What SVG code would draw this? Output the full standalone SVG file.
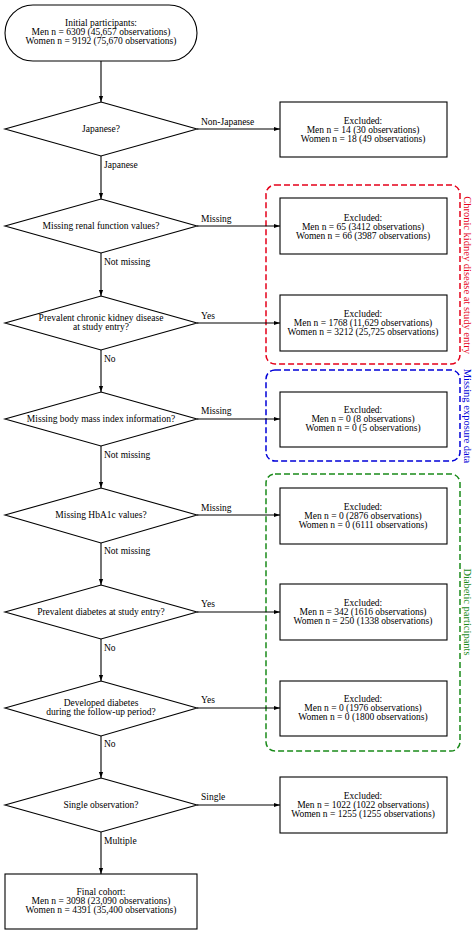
<svg xmlns="http://www.w3.org/2000/svg" width="474" height="932" viewBox="0 0 474 932">
<style>
text{font-family:"Liberation Serif","DejaVu Serif",serif;font-size:9.5px;fill:#000}
.c{text-anchor:middle}
.v{font-size:10.5px;text-anchor:middle}
.n{fill:#fff;stroke:#000;stroke-width:1.1}
.e{stroke:#000;stroke-width:1.1;fill:none}
.g{fill:none;stroke-width:1.5;stroke-dasharray:6,3}
</style>
<defs>
<marker id="a" viewBox="0 0 10 10" refX="10" refY="5" markerWidth="6" markerHeight="6" markerUnits="userSpaceOnUse" orient="auto"><path d="M0,1.5L10,5L0,8.5z" fill="#000"/></marker>
</defs>
<g id="groups">
<rect x="266" y="185" width="194" height="179" rx="9" class="g" stroke="#e5001a"/>
<text transform="translate(464,275) rotate(90)" class="v" style="fill:#e5001a">Chronic kidney disease at study entry</text>
<rect x="266" y="370" width="194" height="91" rx="9" class="g" stroke="#0000d8"/>
<text transform="translate(464,416) rotate(90)" class="v" style="fill:#0000d8">Missing exposure data</text>
<rect x="266" y="474" width="194" height="277" rx="9" class="g" stroke="#1a8a1a"/>
<text transform="translate(464,612) rotate(90)" class="v" style="fill:#1a8a1a">Diabetic participants</text>
</g>
<g id="connectors">
<path class="e" d="M101,61V102" marker-end="url(#a)"/>
<path class="e" d="M101,156V199" marker-end="url(#a)"/>
<path class="e" d="M101,253V296" marker-end="url(#a)"/>
<path class="e" d="M101,350V392" marker-end="url(#a)"/>
<path class="e" d="M101,446V488" marker-end="url(#a)"/>
<path class="e" d="M101,543V585" marker-end="url(#a)"/>
<path class="e" d="M101,639V681" marker-end="url(#a)"/>
<path class="e" d="M101,736V778" marker-end="url(#a)"/>
<path class="e" d="M101,832V874" marker-end="url(#a)"/>
<path class="e" d="M197,129H280" marker-end="url(#a)"/>
<path class="e" d="M197,226H280" marker-end="url(#a)"/>
<path class="e" d="M197,323H280" marker-end="url(#a)"/>
<path class="e" d="M197,419H280" marker-end="url(#a)"/>
<path class="e" d="M197,515H280" marker-end="url(#a)"/>
<path class="e" d="M197,612H280" marker-end="url(#a)"/>
<path class="e" d="M197,708H280" marker-end="url(#a)"/>
<path class="e" d="M197,805H280" marker-end="url(#a)"/>
<text x="201" y="125">Non-Japanese</text>
<text x="104" y="168">Japanese</text>
<text x="201" y="222">Missing</text>
<text x="104" y="265">Not missing</text>
<text x="201" y="319">Yes</text>
<text x="104" y="362">No</text>
<text x="201" y="414">Missing</text>
<text x="104" y="458">Not missing</text>
<text x="201" y="511">Missing</text>
<text x="104" y="554">Not missing</text>
<text x="201" y="607">Yes</text>
<text x="104" y="651">No</text>
<text x="201" y="703">Yes</text>
<text x="104" y="747">No</text>
<text x="201" y="800">Single</text>
<text x="104" y="844">Multiple</text>
</g>
<g id="start">
<rect x="5" y="5" width="192" height="56" rx="28" class="n"/>
<text x="101" y="26" class="c">Initial participants:</text>
<text x="101" y="35" class="c">Men n = 6309 (45,657 observations)</text>
<text x="101" y="44" class="c">Women n = 9192 (75,670 observations)</text>
</g>
<g id="d1"><path class="n" d="M101,102L197,129L101,156L5,129z"/><text x="101" y="132" class="c">Japanese?</text></g>
<g id="d2"><path class="n" d="M101,199L197,226L101,253L5,226z"/><text x="101" y="229" class="c">Missing renal function values?</text></g>
<g id="d3"><path class="n" d="M101,296L197,323L101,350L5,323z"/><text x="101" y="321" class="c">Prevalent chronic kidney disease</text><text x="101" y="330" class="c">at study entry?</text></g>
<g id="d4"><path class="n" d="M101,392L197,419L101,446L5,419z"/><text x="101" y="422" class="c">Missing body mass index information?</text></g>
<g id="d5"><path class="n" d="M101,488L197,515L101,543L5,515z"/><text x="101" y="518" class="c">Missing HbA1c values?</text></g>
<g id="d6"><path class="n" d="M101,585L197,612L101,639L5,612z"/><text x="101" y="615" class="c">Prevalent diabetes at study entry?</text></g>
<g id="d7"><path class="n" d="M101,681L197,708L101,736L5,708z"/><text x="101" y="706" class="c">Developed diabetes</text><text x="101" y="715" class="c">during the follow-up period?</text></g>
<g id="d8"><path class="n" d="M101,778L197,805L101,832L5,805z"/><text x="101" y="808" class="c">Single observation?</text></g>
<g id="x1"><rect x="280" y="102" width="167" height="55" class="n"/><text x="363" y="124" class="c">Excluded:</text><text x="363" y="133" class="c">Men n = 14 (30 observations)</text><text x="363" y="142" class="c">Women n = 18 (49 observations)</text></g>
<g id="x2"><rect x="280" y="198" width="167" height="56" class="n"/><text x="363" y="221" class="c">Excluded:</text><text x="363" y="230" class="c">Men n = 65 (3412 observations)</text><text x="363" y="239" class="c">Women n = 66 (3987 observations)</text></g>
<g id="x3"><rect x="280" y="295" width="167" height="56" class="n"/><text x="363" y="317" class="c">Excluded:</text><text x="363" y="326" class="c">Men n = 1768 (11,629 observations)</text><text x="363" y="335" class="c">Women n = 3212 (25,725 observations)</text></g>
<g id="x4"><rect x="280" y="392" width="167" height="55" class="n"/><text x="363" y="413" class="c">Excluded:</text><text x="363" y="422" class="c">Men n = 0 (8 observations)</text><text x="363" y="431" class="c">Women n = 0 (5 observations)</text></g>
<g id="x5"><rect x="280" y="488" width="167" height="56" class="n"/><text x="363" y="510" class="c">Excluded:</text><text x="363" y="519" class="c">Men n = 0 (2876 observations)</text><text x="363" y="528" class="c">Women n = 0 (6111 observations)</text></g>
<g id="x6"><rect x="280" y="584" width="167" height="56" class="n"/><text x="363" y="606" class="c">Excluded:</text><text x="363" y="615" class="c">Men n = 342 (1616 observations)</text><text x="363" y="624" class="c">Women n = 250 (1338 observations)</text></g>
<g id="x7"><rect x="280" y="681" width="167" height="55" class="n"/><text x="363" y="702" class="c">Excluded:</text><text x="363" y="711" class="c">Men n = 0 (1976 observations)</text><text x="363" y="720" class="c">Women n = 0 (1800 observations)</text></g>
<g id="x8"><rect x="280" y="777" width="167" height="56" class="n"/><text x="363" y="799" class="c">Excluded:</text><text x="363" y="808" class="c">Men n = 1022 (1022 observations)</text><text x="363" y="817" class="c">Women n = 1255 (1255 observations)</text></g>
<g id="final"><rect x="5" y="874" width="192" height="55" class="n"/><text x="101" y="895" class="c">Final cohort:</text><text x="101" y="904" class="c">Men n = 3098 (23,090 observations)</text><text x="101" y="913" class="c">Women n = 4391 (35,400 observations)</text></g>
</svg>
